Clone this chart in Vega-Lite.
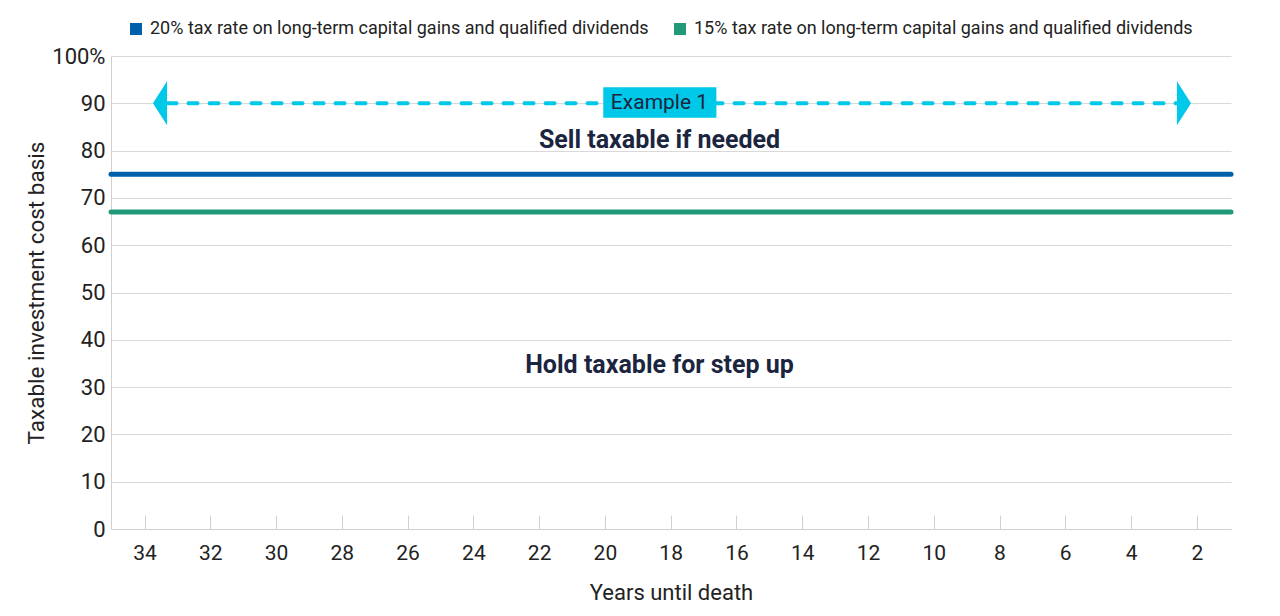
{
  "$schema": "https://vega.github.io/schema/vega-lite/v6.json",
  "width": 1120,
  "height": 473,
  "autosize": {"type": "none"},
  "padding": {"left": 111, "top": 56, "right": 49, "bottom": 87},
  "background": "white",
  "config": {
    "font": "Roboto",
    "view": {"stroke": null},
    "axis": {"labelFont": "Roboto", "titleFont": "Roboto", "labelColor": "#222222", "titleColor": "#222222", "titleFontWeight": "normal", "gridColor": "#d9d9d9", "domainColor": "#d0d0d0", "tickColor": "#d0d0d0"}
  },
  "datasets": {
    "lines": [
      {"series": "20% tax rate on long-term capital gains and qualified dividends", "years": 35.02, "basis": 75},
      {"series": "20% tax rate on long-term capital gains and qualified dividends", "years": 0.96, "basis": 75},
      {"series": "15% tax rate on long-term capital gains and qualified dividends", "years": 35.02, "basis": 67},
      {"series": "15% tax rate on long-term capital gains and qualified dividends", "years": 0.96, "basis": 67}
    ],
    "arrow": [{"start": 33.3, "end": 2.6, "basis": 90}],
    "heads": [
      {"dir": "left", "years": 33.53, "basis": 90},
      {"dir": "right", "years": 2.39, "basis": 90}
    ],
    "box": [{"x1": 20.05, "x2": 16.61, "y1": 93.4, "y2": 86.95, "years": 18.34, "basis": 90, "label": "Example 1"}],
    "notes": [
      {"years": 18.34, "basis": 82.2, "label": "Sell taxable if needed"},
      {"years": 18.34, "basis": 34.7, "label": "Hold taxable for step up"}
    ]
  },
  "layer": [
    {
      "data": {"name": "lines"},
      "mark": {"type": "line", "strokeWidth": 5, "strokeCap": "round"},
      "encoding": {
        "x": {
          "field": "years", "type": "quantitative",
          "scale": {"domain": [0.96, 35.02], "reverse": true, "nice": false, "zero": false},
          "axis": {"values": [2,4,6,8,10,12,14,16,18,20,22,24,26,28,30,32,34], "grid": false, "tickSize": -14, "labelPadding": 27, "labelFontSize": 21, "title": "Years until death", "titleFontSize": 22, "titlePadding": 19}
        },
        "y": {
          "field": "basis", "type": "quantitative",
          "scale": {"domain": [0, 100], "nice": false},
          "axis": {"values": [0,10,20,30,40,50,60,70,80,90,100], "ticks": false, "labelPadding": 6, "labelFontSize": 22, "labelExpr": "datum.value == 100 ? '100%' : datum.label + '\u00a0\u00a0\u00a0'", "title": "Taxable investment cost basis", "titleFontSize": 22.5, "titlePadding": 3}
        },
        "color": {
          "field": "series", "type": "nominal",
          "scale": {"domain": ["20% tax rate on long-term capital gains and qualified dividends", "15% tax rate on long-term capital gains and qualified dividends"], "range": ["#0060A9", "#229A78"]},
          "legend": {
            "title": null, "orient": "none", "direction": "horizontal", "legendX": 16, "legendY": -36,
            "symbolType": "square", "symbolSize": 144, "labelFontSize": 18, "labelColor": "#222222", "labelFont": "Roboto", "columnPadding": 22, "labelOffset": 5, "labelLimit": 700,
            "encode": {"symbols": {"update": {"fill": {"scale": "color", "field": "value"}, "strokeWidth": {"value": 0}, "fillOpacity": {"value": 1}}}}
          }
        }
      }
    },
    {
      "data": {"name": "arrow"},
      "mark": {"type": "rule", "color": "#00C8E8", "strokeWidth": 4, "strokeDash": [9, 12], "strokeCap": "round"},
      "encoding": {
        "x": {"field": "start", "type": "quantitative"},
        "x2": {"field": "end"},
        "y": {"field": "basis", "type": "quantitative"}
      }
    },
    {
      "data": {"name": "heads"},
      "mark": {"type": "point", "filled": true, "color": "#00C8E8", "opacity": 1, "size": 1936, "strokeWidth": 0},
      "encoding": {
        "x": {"field": "years", "type": "quantitative"},
        "y": {"field": "basis", "type": "quantitative"},
        "shape": {"field": "dir", "type": "nominal", "legend": null,
          "scale": {"domain": ["left", "right"], "range": ["M -0.32 0 L 0.32 -1 L 0.32 1 Z", "M 0.32 0 L -0.32 -1 L -0.32 1 Z"]}}
      }
    },
    {
      "data": {"name": "box"},
      "mark": {"type": "rect", "color": "#00C8E8"},
      "encoding": {
        "x": {"field": "x1", "type": "quantitative"},
        "x2": {"field": "x2"},
        "y": {"field": "y1", "type": "quantitative"},
        "y2": {"field": "y2"}
      }
    },
    {
      "data": {"name": "box"},
      "mark": {"type": "text", "font": "Roboto", "fontSize": 21, "color": "#1B2540", "align": "center", "baseline": "middle"},
      "encoding": {
        "x": {"field": "years", "type": "quantitative"},
        "y": {"field": "basis", "type": "quantitative"},
        "text": {"field": "label"}
      }
    },
    {
      "data": {"name": "notes"},
      "mark": {"type": "text", "font": "Roboto", "fontSize": 25, "fontWeight": "bold", "color": "#1B2540", "align": "center", "baseline": "middle"},
      "encoding": {
        "x": {"field": "years", "type": "quantitative"},
        "y": {"field": "basis", "type": "quantitative"},
        "text": {"field": "label"}
      }
    }
  ]
}
